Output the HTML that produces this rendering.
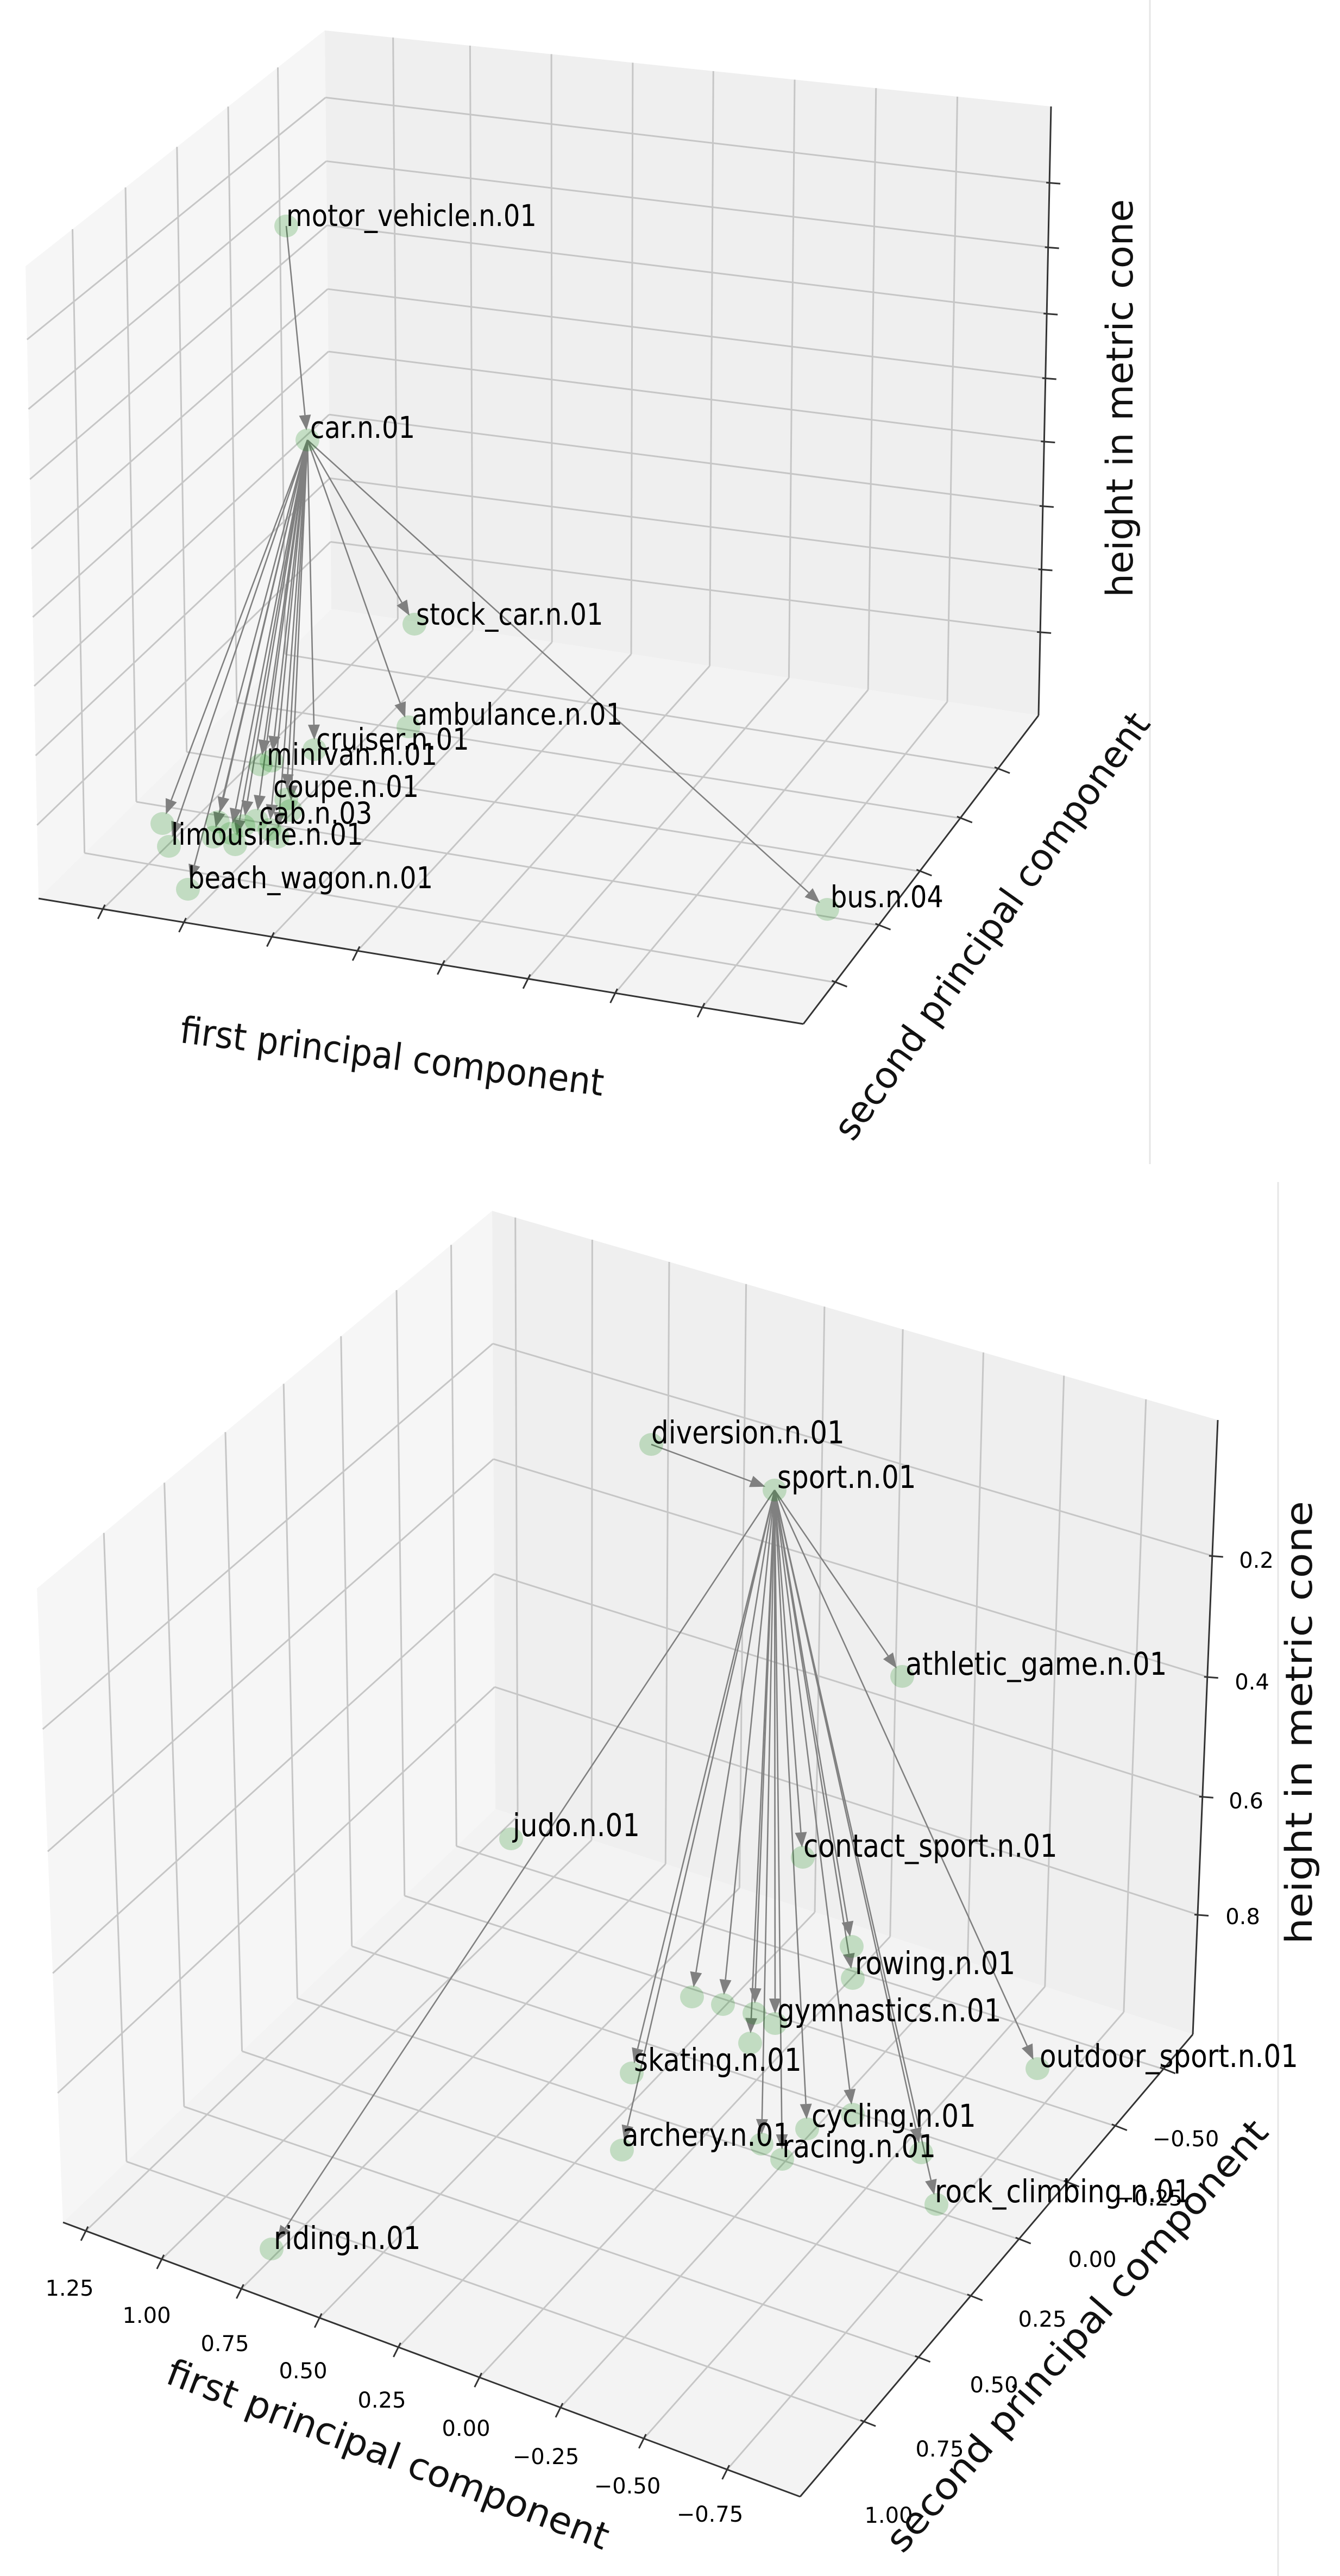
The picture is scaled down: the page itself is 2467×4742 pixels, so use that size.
<!DOCTYPE html>
<html><head><meta charset="utf-8">
<style>
html,body{margin:0;padding:0;background:#fff;}
svg{display:block;}
text{font-family:"DejaVu Sans","Liberation Sans",sans-serif;fill:#000;}
.lab{font-size:48px;}
.lab2{font-size:50px;}
.tk{font-size:40px;fill:#222;}
.ax{font-size:68px;fill:#111;}
</style></head>
<body>
<svg id="s" width="2467" height="4742" viewBox="0 0 2467 4742" xmlns="http://www.w3.org/2000/svg">
<g id="bg"></g>
<g id="arr"></g>
<g id="pts"></g>
<!-- border lines -->
<line x1="2117" y1="0" x2="2117" y2="2143" stroke="#e6e6e6" stroke-width="3"/>
<line x1="2353" y1="2176" x2="2353" y2="4742" stroke="#e6e6e6" stroke-width="3"/>

<!-- TOP labels -->
<g class="lab">
<text transform="translate(527,416) scale(1,1.15)">motor_vehicle.n.01</text>
<text transform="translate(571,806) scale(1,1.15)">car.n.01</text>
<text transform="translate(766,1150) scale(1,1.15)">stock_car.n.01</text>
<text transform="translate(758,1334) scale(1,1.15)">ambulance.n.01</text>
<text transform="translate(582,1380) scale(1,1.15)">cruiser.n.01</text>
<text transform="translate(491,1408) scale(1,1.15)">minivan.n.01</text>
<text transform="translate(503,1467) scale(1,1.15)">coupe.n.01</text>
<text transform="translate(477,1516) scale(1,1.15)">cab.n.03</text>
<text transform="translate(315,1555) scale(1,1.15)">limousine.n.01</text>
<text transform="translate(346,1635) scale(1,1.15)">beach_wagon.n.01</text>
<text transform="translate(1529,1670) scale(1,1.15)">bus.n.04</text>
</g>
<text class="ax" transform="translate(2085,733) rotate(-90)" text-anchor="middle" textLength="733" lengthAdjust="spacingAndGlyphs">height in metric cone</text>
<text class="ax" transform="translate(719,1968) rotate(7.2)" text-anchor="middle" textLength="785" lengthAdjust="spacingAndGlyphs">first principal component</text>
<text class="ax" transform="translate(1845,1718) rotate(-54.5)" text-anchor="middle" textLength="947" lengthAdjust="spacingAndGlyphs">second principal component</text>

<!-- BOTTOM labels -->
<g class="lab2">
<text transform="translate(1199,2657) scale(1,1.15)">diversion.n.01</text>
<text transform="translate(1431,2739) scale(1,1.15)">sport.n.01</text>
<text transform="translate(1667,3083) scale(1,1.15)">athletic_game.n.01</text>
<text transform="translate(1479,3418) scale(1,1.15)">contact_sport.n.01</text>
<text transform="translate(944,3380) scale(1,1.15)">judo.n.01</text>
<text transform="translate(1574,3634) scale(1,1.15)">rowing.n.01</text>
<text transform="translate(1431,3721) scale(1,1.15)">gymnastics.n.01</text>
<text transform="translate(1167,3812) scale(1,1.15)">skating.n.01</text>
<text transform="translate(1914,3805) scale(1,1.15)">outdoor_sport.n.01</text>
<text transform="translate(1494,3915) scale(1,1.15)">cycling.n.01</text>
<text transform="translate(1145,3950) scale(1,1.15)">archery.n.01</text>
<text transform="translate(1440,3971) scale(1,1.15)">racing.n.01</text>
<text transform="translate(1721,4054) scale(1,1.15)">rock_climbing.n.01</text>
<text transform="translate(504,4140) scale(1,1.15)">riding.n.01</text>
</g>
<g class="tk" text-anchor="middle">
<text x="2313" y="2886">0.2</text>
<text x="2305" y="3110">0.4</text>
<text x="2294" y="3329">0.6</text>
<text x="2288" y="3542">0.8</text>
<text x="128" y="4226">1.25</text>
<text x="270" y="4276">1.00</text>
<text x="414" y="4328">0.75</text>
<text x="558" y="4378">0.50</text>
<text x="703" y="4432">0.25</text>
<text x="858" y="4484">0.00</text>
<text x="1005" y="4536">−0.25</text>
<text x="1155" y="4590">−0.50</text>
<text x="1307" y="4642">−0.75</text>
<text x="2183" y="3951">−0.50</text>
<text x="2116" y="4060">−0.25</text>
<text x="2011" y="4173">0.00</text>
<text x="1919" y="4283">0.25</text>
<text x="1830" y="4404">0.50</text>
<text x="1730" y="4522">0.75</text>
<text x="1636" y="4644">1.00</text>
</g>
<text class="ax" transform="translate(2415,3171) rotate(-90)" text-anchor="middle" textLength="816" lengthAdjust="spacingAndGlyphs">height in metric cone</text>
<text class="ax" transform="translate(706,4540) rotate(20.9)" text-anchor="middle" textLength="865" lengthAdjust="spacingAndGlyphs">first principal component</text>
<text class="ax" transform="translate(2000,4315) rotate(-48.9)" text-anchor="middle" textLength="1029" lengthAdjust="spacingAndGlyphs">second principal component</text>
</svg>
<script>
(function(){
var NS="http://www.w3.org/2000/svg";
var bg=document.getElementById("bg"),ar=document.getElementById("arr"),pt=document.getElementById("pts");
function el(par,n,a){var e=document.createElementNS(NS,n);for(var k in a)e.setAttribute(k,a[k]);par.appendChild(e);return e;}
function L(a,b,t){return [a[0]+(b[0]-a[0])*t,a[1]+(b[1]-a[1])*t];}
function ln(p,q,c,w){el(bg,"line",{x1:p[0],y1:p[1],x2:q[0],y2:q[1],stroke:c,"stroke-width":w});}
function poly(ps,f){el(bg,"polygon",{points:ps.map(function(p){return p.join(",");}).join(" "),fill:f});}
var GC="#c6c6c6",GW=3;
function chart(c){
 poly([c.BT,c.LT,c.FL,c.B],"#f6f6f6");
 poly([c.BT,c.RT,c.R,c.B],"#efefef");
 poly([c.B,c.R,c.FR,c.FL],"#f3f3f3");
 c.bv.forEach(function(t){ln(L(c.BT,c.RT,t),L(c.B,c.R,t),GC,GW);});
 c.hl.forEach(function(t,i){ln(L(c.B,c.BT,t),L(c.R,c.RT,c.hr[i]),GC,GW);ln(L(c.B,c.BT,t),L(c.FL,c.LT,t),GC,GW);});
 c.lv.forEach(function(t,i){ln(L(c.LT,c.BT,t),L(c.FL,c.B,t),GC,GW);ln(L(c.FL,c.B,t),L(c.FR,c.R,c.fy[i]),GC,GW);});
 c.fx.forEach(function(t,i){ln(L(c.FL,c.FR,t),L(c.B,c.R,c.bv[i]),GC,GW);});
 // axes
 ln(c.FL,c.FR,"#333",3); ln(c.R,c.FR,"#333",3); ln(c.R,c.RT,"#333",3);
 c.fx.forEach(function(t){var p=L(c.FL,c.FR,t);ln([p[0]+4,p[1]-8],[p[0]-9,p[1]+18],"#333",3);});
 c.fy.forEach(function(t){var p=L(c.FR,c.R,t);ln([p[0]-6,p[1]-3],[p[0]+22,p[1]+8],"#333",3);});
 c.hr.forEach(function(t){var p=L(c.R,c.RT,t);ln([p[0]-6,p[1]],[p[0]+20,p[1]+2],"#333",3);});
}
chart({BT:[598,56],LT:[47,490],B:[610,1121],FL:[71,1654],R:[1912,1317],RT:[1935,196],FR:[1479,1885],
 bv:[.094,.2,.312,.424,.535,.647,.759,.871],fx:[.084,.19,.305,.417,.528,.64,.754,.868],
 lv:[.157,.334,.506,.677,.843],fy:[.135,.32,.495,.667,.827],
 hl:[.116,.226,.336,.445,.553,.663,.774,.884],hr:[.137,.24,.344,.45,.554,.66,.769,.875]});
chart({BT:[906,2229],LT:[68,2924],B:[912,3330],FL:[116,4091],R:[2196,3745],RT:[2242,2614],FR:[1473,4596],
 bv:[.032,.138,.244,.35,.458,.566,.677,.788,.901],fx:[.031,.134,.242,.348,.455,.565,.675,.788,.901],
 lv:[.147,.28,.414,.542,.668,.79,.91],fy:[.162,.301,.434,.557,.68,.802,.925],
 hl:[.204,.393,.585,.778],hr:[.195,.387,.582,.779]});
function arrow(s,t){
 var dx=t[0]-s[0],dy=t[1]-s[1],d=Math.sqrt(dx*dx+dy*dy);if(d<1)return;
 var ux=dx/d,uy=dy/d,tip=[t[0]-ux*18,t[1]-uy*18],hl=28,hw=11;
 var base=[tip[0]-ux*hl,tip[1]-uy*hl];
 el(ar,"line",{x1:s[0],y1:s[1],x2:base[0],y2:base[1],stroke:"#808080","stroke-width":2.6});
 el(ar,"polygon",{points:[tip,[base[0]-uy*hw,base[1]+ux*hw],[base[0]+uy*hw,base[1]-ux*hw]].map(function(p){return p.join(",");}).join(" "),fill:"#808080"});
}
function dot(p){el(pt,"ellipse",{cx:p[0],cy:p[1],rx:22,ry:21,fill:"rgba(0,128,0,0.2)"});}
var car=[566,810],mv=[527,416];
var tkids=[[763,1149],[752,1338],[579,1380],[1523,1674],[480,1408],[500,1401],[527,1471],[299,1516],[311,1558],[346,1637],
 [401,1513],[425,1534],[448,1520],[472,1510],[496,1527],[511,1541],[535,1492],[433,1555],[393,1541]];
arrow(mv,car);tkids.forEach(function(k){arrow(car,k);});
[mv,car].concat(tkids).forEach(dot);
var sp=[1426,2743],dv=[1199,2659];
var bkids=[[1661,3086],[1478,3419],[1568,3583],[1570,3642],[1274,3676],[1331,3690],[1389,3706],[1427,3725],[1381,3761],
 [1163,3816],[1910,3808],[1486,3919],[1570,3892],[1145,3958],[1440,3975],[1402,3947],[1724,4058],[1696,3963],[500,4140]];
arrow(dv,sp);bkids.forEach(function(k){arrow(sp,k);});
[dv,sp,[941,3385]].concat(bkids).forEach(dot);
})();
</script>
</body></html>
